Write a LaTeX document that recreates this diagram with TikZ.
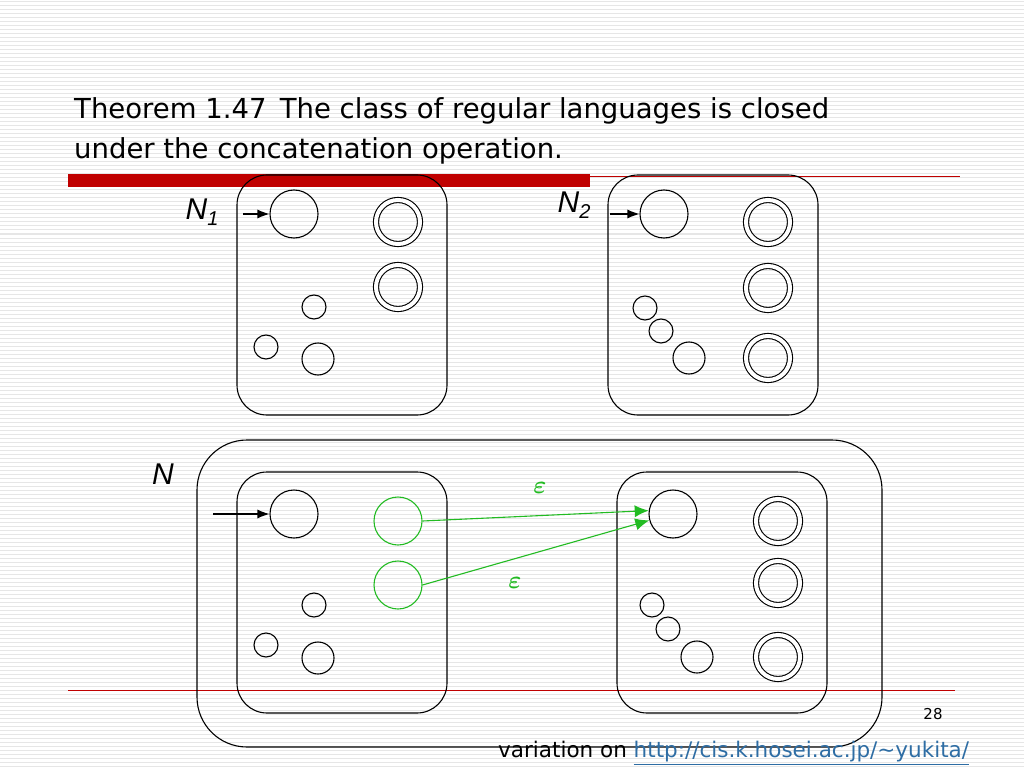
\documentclass[tikz,border=0pt]{standalone}
\usepackage{amsmath}
\usepackage{fontspec}
\setmainfont{DejaVu Sans}
\newfontfamily\arialf{Liberation Sans}
\usetikzlibrary{arrows.meta}
\definecolor{stripe}{HTML}{E6E6E6}
\definecolor{redbar}{HTML}{C00000}
\definecolor{grn}{HTML}{22BB22}
\definecolor{urlc}{HTML}{2E6DA4}
\newcommand{\nlab}[2]{{\arialf\itshape #1}\raisebox{-6pt}{\arialf\fontsize{20}{22}\selectfont #2}}
\begin{document}
\begin{tikzpicture}[x=1pt,y=-1pt,
  st/.style={circle,draw,line width=1.1pt,minimum size=48pt,inner sep=0pt},
  sm/.style={circle,draw,line width=1.1pt,minimum size=24pt,inner sep=0pt},
  md/.style={circle,draw,line width=1.1pt,minimum size=32pt,inner sep=0pt},
  acc/.style={circle,draw,line width=1.1pt,minimum size=44pt,inner sep=0pt,double,double distance=4pt},
  gst/.style={st,draw=grn},
  box/.style={draw,line width=1.1pt,rounded corners=30pt},
  arr/.style={-{Latex[length=12pt,width=9pt]},line width=1.1pt},
  garr/.style={-{Latex[length=14pt,width=12pt]},draw=grn,line width=1.1pt},
  lab/.style={font=\arialf\itshape\fontsize{30}{32}\selectfont},
  eps/.style={text=grn,font=\fontsize{28}{30}\selectfont}]
\useasboundingbox (0,0) rectangle (1024,767);
\fill[white] (0,0) rectangle (1024,767);
\foreach \y in {2,6,...,766} \draw[stripe,line width=1pt] (0,\y) -- (1024,\y);
\node[anchor=base west,inner sep=0pt,font=\fontsize{27.5}{30}\selectfont] (title1) at (74,119) {Theorem 1.47\, The class of regular languages is closed};
\node[anchor=base west,inner sep=0pt,font=\fontsize{27.5}{30}\selectfont] (title2) at (74,159) {under the concatenation operation.};
\fill[redbar] (68,174) rectangle (590,187);
\draw[redbar,line width=0.7pt] (590,176) -- (960,176);
\draw[redbar,line width=0.7pt] (68,690) -- (955,690);
% N1
\node[box,minimum width=210pt,minimum height=240pt] (b1) at (342,295) {};
\node[lab] (n1) at (202,212) {\nlab{N}{1}};
\node[st] (s1) at (294,214) {};
\coordinate (i1) at (243,214);
\draw[arr] (i1) -- (s1);
\node[acc] (a11) at (398,222) {};
\node[acc] (a12) at (398,287) {};
\node[sm] (p11) at (314,307) {};
\node[sm] (p12) at (266,347) {};
\node[md] (p13) at (318,359) {};
% N2
\node[box,minimum width=210pt,minimum height=240pt] (b2) at (713,295) {};
\node[lab] (n2) at (574,205) {\nlab{N}{2}};
\node[st] (s2) at (664,214) {};
\coordinate (i2) at (610,214);
\draw[arr] (i2) -- (s2);
\node[acc] (a21) at (768,222) {};
\node[acc] (a22) at (768,288) {};
\node[acc] (a23) at (768,358) {};
\node[sm] (p21) at (645,308) {};
\node[sm] (p22) at (661,331) {};
\node[md] (p23) at (689,358) {};
% N
\node[box,rounded corners=50pt,minimum width=685pt,minimum height=307pt] (bN) at (539.5,593.5) {};
\node[lab] (nN) at (163,474) {N};
\node[box,minimum width=210pt,minimum height=241pt] (b3) at (342,592.5) {};
\node[st] (s3) at (294,514) {};
\coordinate (i3) at (213,514);
\draw[arr] (i3) -- (s3);
\node[gst] (g1) at (398,521) {};
\node[gst] (g2) at (398,585) {};
\node[sm] (p31) at (314,605) {};
\node[sm] (p32) at (266,645) {};
\node[md] (p33) at (318,658) {};
\node[box,minimum width=210pt,minimum height=241pt] (b4) at (722,592.5) {};
\node[st] (s4) at (673,514) {};
\node[acc] (a41) at (778,521) {};
\node[acc] (a42) at (778,583) {};
\node[acc] (a43) at (778,657) {};
\node[sm] (p41) at (652,605) {};
\node[sm] (p42) at (668,629) {};
\node[md] (p43) at (697,657) {};
\draw[garr] (g1.east) -- (s4.172);
\draw[garr] (g2.east) -- (s4.195);
\node[eps] (e1) at (540,488) {$\boldsymbol{\varepsilon}$};
\node[eps] (e2) at (515,583) {$\boldsymbol{\varepsilon}$};
\node[font=\fontsize{15}{17}\selectfont] (pg) at (933,714) {28};
\node[anchor=base west,inner sep=0pt,font=\fontsize{21.5}{24}\selectfont] (var) at (498,757) {variation on \textcolor{urlc}{\underline{http://cis.k.hosei.ac.jp/\char`~yukita/}}};
\end{tikzpicture}
\end{document}
